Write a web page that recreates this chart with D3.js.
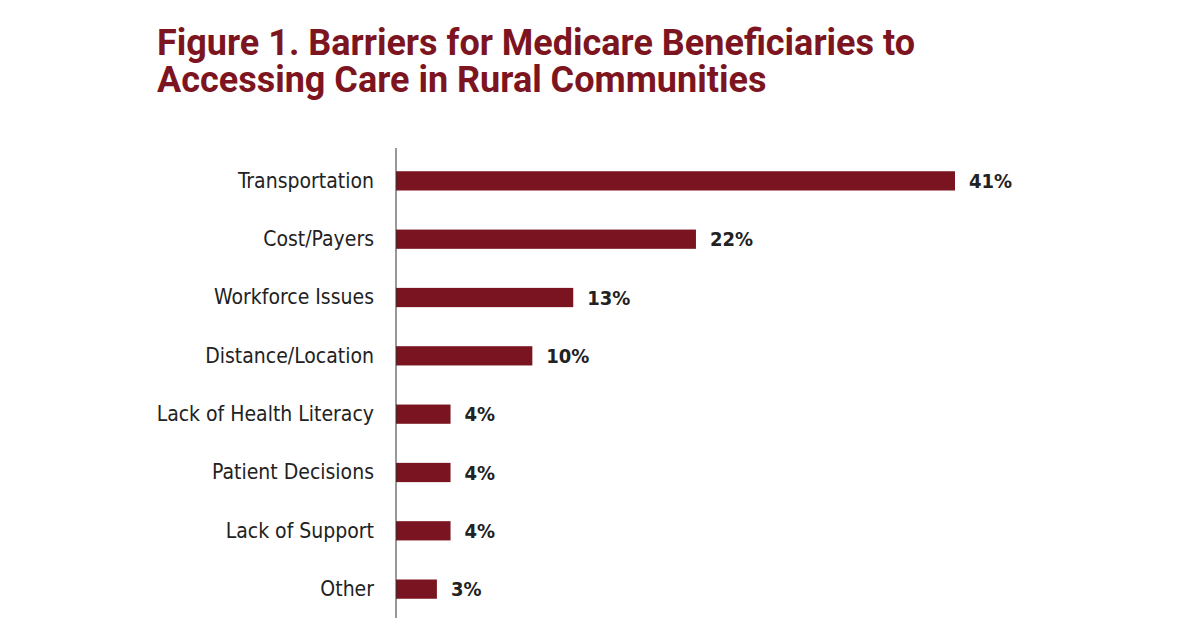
<!DOCTYPE html>
<html>
<head>
<meta charset="utf-8">
<script src="https://cdn.jsdelivr.net/npm/d3@7"></script>
<style>
  body { margin: 0; background: #fff; }
  svg { display: block; }
</style>
</head>
<body>
<div id="chart"></div>
<script>
// data
var categories = ["Transportation", "Cost/Payers", "Workforce Issues", "Distance/Location",
                  "Lack of Health Literacy", "Patient Decisions", "Lack of Support", "Other"];
var values = [41, 22, 13, 10, 4, 4, 4, 3];

var W = 1200, H = 628;
var color = "#7a1420";
var plotLeft = 396, plotTop = 152, plotH = 466;
var labelFont = "'Liberation Sans Narrow', 'DejaVu Sans Condensed', 'DejaVu Sans', sans-serif";

var svg = d3.select("#chart").append("svg")
  .attr("width", W).attr("height", H);

// title
var title = svg.append("text")
  .attr("x", 157).attr("y", 55)
  .attr("fill", "#7d1520")
  .style("font-family", "Roboto, 'Open Sans', sans-serif")
  .style("font-weight", "bold")
  .style("font-size", "36px");
title.append("tspan").attr("x", 157).text("Figure 1. Barriers for Medicare Beneficiaries to");
title.append("tspan").attr("x", 157).attr("dy", 37).text("Accessing Care in Rural Communities");

var x = d3.scaleLinear().domain([0, 41]).range([plotLeft, 955]);
var y = d3.scaleBand().domain(categories).range([plotTop, plotTop + plotH]).paddingInner(0.67).paddingOuter(0.33);

var g = svg.append("g");

// bars
g.selectAll("rect").data(values).enter().append("rect")
  .attr("x", x(0))
  .attr("y", function(d, i) { return y(categories[i]); })
  .attr("width", function(d) { return x(d) - x(0); })
  .attr("height", y.bandwidth())
  .attr("fill", color);

// category axis
var yAxis = svg.append("g")
  .attr("transform", "translate(" + plotLeft + ",0)")
  .call(d3.axisLeft(y).tickSize(0).tickPadding(22));
yAxis.select(".domain").attr("stroke", "#333").attr("d", "M0," + (plotTop - 4) + "V" + (plotTop + plotH));
yAxis.selectAll("text")
  .style("font-family", labelFont)
  .style("font-stretch", "condensed")
  .style("font-size", "21px")
  .attr("fill", "#222");

// value labels
g.selectAll(".val").data(values).enter().append("text")
  .attr("x", function(d) { return x(d) + 14; })
  .attr("y", function(d, i) { return y(categories[i]) + y.bandwidth() / 2; })
  .attr("dy", "0.36em")
  .style("font-family", labelFont)
  .style("font-stretch", "condensed")
  .style("font-weight", "bold")
  .style("font-size", "20px")
  .attr("fill", "#222")
  .text(function(d) { return d + "%"; });
</script>
</body>
</html>
